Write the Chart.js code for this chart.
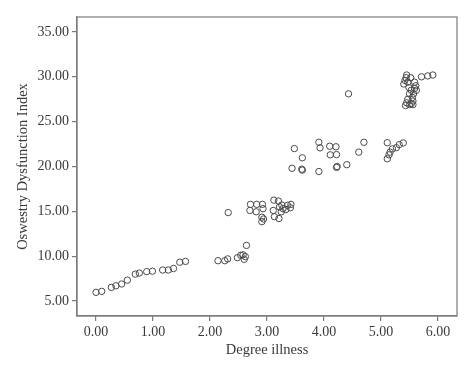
<!DOCTYPE html>
<html>
<head>
<meta charset="utf-8">
<script src="https://cdn.jsdelivr.net/npm/chart.js@4"></script>
<style>
  html, body { margin:0; padding:0; background:#fff; }
  canvas { display:block; }
</style>
</head>
<body>
<canvas id="chart" width="474" height="374"></canvas>
<script>
// ---------- dados ----------
const degreeIllness = [
  0.00, 0.10, 0.27, 0.35, 0.45, 0.55, 0.69, 0.76, 0.89, 0.99, 1.17, 1.27, 1.36, 1.47, 1.57,
  2.14, 2.26, 2.31, 2.48, 2.54, 2.58, 2.62, 2.60, 2.64, 2.32,
  2.71, 2.82, 2.92, 2.70, 2.81, 2.93, 2.91, 2.94, 2.91, 3.12, 3.20, 3.11, 3.13, 3.21, 3.22,
  3.26, 3.28, 3.36, 3.42, 3.41, 3.25, 3.33,
  3.48, 3.44, 3.62, 3.61, 3.62, 3.91, 3.93, 4.10, 4.21, 4.11, 4.22, 4.23, 4.22, 4.40, 3.91,
  4.61, 4.70, 4.43,
  5.11, 5.11, 5.14, 5.16, 5.20, 5.27, 5.32, 5.39,
  5.45, 5.42, 5.40, 5.47, 5.59, 5.61, 5.53, 5.62, 5.50, 5.57, 5.55, 5.47, 5.45, 5.43, 5.53,
  5.56, 5.71, 5.82, 5.91, 5.49, 5.59, 5.50, 5.56, 5.52, 5.44
];
const oswestryIndex = [
  5.97, 6.08, 6.52, 6.70, 6.90, 7.33, 8.00, 8.12, 8.28, 8.33, 8.46, 8.46, 8.63, 9.33, 9.42,
  9.50, 9.50, 9.70, 9.83, 10.10, 10.15, 9.95, 9.65, 11.20, 14.86,
  15.78, 15.78, 15.78, 15.10, 14.95, 15.30, 14.35, 14.15, 13.85, 16.25, 16.15, 15.10, 14.40, 14.20, 15.50,
  15.70, 15.30, 15.67, 15.78, 15.40, 14.95, 15.20,
  22.00, 19.80, 20.97, 19.70, 19.60, 22.70, 22.08, 22.26, 22.20, 21.30, 21.33, 20.00, 19.90, 20.20, 19.44,
  21.60, 22.70, 28.10,
  22.65, 20.86, 21.30, 21.60, 21.97, 22.10, 22.44, 22.63,
  30.20, 29.60, 29.20, 29.40, 29.40, 29.00, 28.50, 28.50, 28.10, 28.10, 27.70, 27.50, 27.10, 26.80, 27.00,
  27.30, 30.00, 30.10, 30.20, 28.80, 28.70, 26.90, 26.90, 29.90, 29.90
];
const xTicks = [0, 1, 2, 3, 4, 5, 6];
const yTicks = [5, 10, 15, 20, 25, 30, 35];

const points = degreeIllness.map((x, i) => ({ x, y: oswestryIndex[i] }));

const FONT = "'Liberation Serif', 'DejaVu Serif', serif";
const TEXT = '#3a3a3a';
const LINE = '#7a7a7a';

// caixa em volta da área do gráfico
const frame = {
  id: 'frame',
  afterDatasetsDraw(chart) {
    const { ctx, chartArea: a } = chart;
    ctx.save();
    ctx.strokeStyle = LINE;
    ctx.lineWidth = 1.2;
    ctx.strokeRect(a.left, a.top, a.right - a.left, a.bottom - a.top);
    ctx.restore();
  }
};

new Chart(document.getElementById('chart'), {
  type: 'scatter',
  data: {
    datasets: [{
      data: points,
      pointStyle: 'circle',
      pointRadius: 3.2,
      pointBorderWidth: 1,
      borderColor: '#4a4a4a',
      backgroundColor: 'rgba(0,0,0,0)'
    }]
  },
  options: {
    responsive: false,
    animation: false,
    layout: { padding: { left: 0, right: 17, top: 17, bottom: 0 } },
    plugins: { legend: { display: false }, tooltip: { enabled: false } },
    scales: {
      x: {
        type: 'linear',
        min: -0.333, max: 6.333,
        afterFit: s => { s.height = 58; },
        afterBuildTicks: s => { s.ticks = xTicks.map(v => ({ value: v })); },
        grid: { display: true, drawOnChartArea: false, drawTicks: true, tickLength: 5, color: LINE, lineWidth: 1.2 },
        border: { display: true, color: LINE, width: 1.2 },
        ticks: {
          color: TEXT, padding: 3,
          font: { family: FONT, size: 14 },
          callback: v => v.toFixed(2)
        },
        title: {
          display: true, text: 'Degree illness', color: TEXT,
          font: { family: FONT, size: 14.5 }, padding: { top: 0, bottom: 15 }
        }
      },
      y: {
        type: 'linear',
        min: 3.333, max: 36.667,
        afterFit: s => { s.width = 77; },
        afterBuildTicks: s => { s.ticks = yTicks.map(v => ({ value: v })); },
        grid: { display: true, drawOnChartArea: false, drawTicks: true, tickLength: 5, color: LINE, lineWidth: 1.2 },
        border: { display: true, color: LINE, width: 1.2 },
        ticks: {
          color: TEXT, padding: 3,
          font: { family: FONT, size: 14 },
          callback: v => v.toFixed(2)
        },
        title: {
          display: true, text: 'Oswestry Dysfunction Index', color: TEXT,
          font: { family: FONT, size: 14.5 }, padding: { top: 14, bottom: 4 }
        }
      }
    }
  },
  plugins: [frame]
});
</script>
</body>
</html>
